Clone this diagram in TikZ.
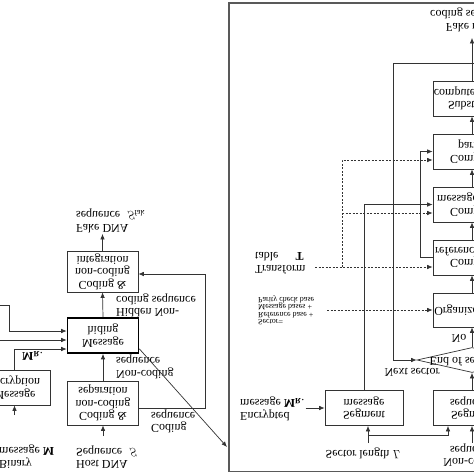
\documentclass[tikz,border=0pt]{standalone}
\usepackage{fontspec}
\setmainfont{Liberation Serif}
\usetikzlibrary{arrows.meta,shapes.geometric,calc}
\begin{document}
\begin{tikzpicture}[x=1pt,y=1pt,yscale=-1,transform shape,
  every node/.style={font=\fontsize{12}{12.5}\selectfont, inner sep=1pt},
  box/.style={draw=black!80, line width=0.7pt, align=center, inner sep=0pt, minimum width=71pt},
  rbox/.style={box, minimum width=78pt, minimum height=35pt},
  lbl/.style={align=left, anchor=west},
  ln/.style={draw=black!80, line width=0.7pt},
  arr/.style={ln, -{Latex[length=5.5pt,width=4.5pt]}},
  darr/.style={arr, dash pattern=on 2pt off 1.5pt},
  dln/.style={ln, dash pattern=on 2pt off 1.5pt},
  small/.style={font=\fontsize{8}{7.5}\selectfont}
]
\useasboundingbox (0,0) rectangle (474,474);
\clip (0,0) rectangle (474,474);

% big frame
\draw[gray!70!black, line width=1.3pt] (229,3) rectangle (495,471.5);

% ---------- left part ----------
\node[box, minimum height=41pt] (integ) at (102.5,271.5) {Coding \&\\non-coding\\integration};
\node[box, minimum height=35pt, line width=1.6pt, draw=black] (hide) at (103,335.5) {Message\\hiding};
\node[box, minimum height=44pt] (sep) at (103,403) {Coding \&\\non-coding\\separation};
\node[box, minimum height=35pt] (enc) at (14.5,387.5) {Message\\encryption};

\node[lbl] (fk) at (75,221) {Fake DNA\\sequence\hspace{7pt}$S_{\mathrm{fak}}$};
\node[lbl] (hd) at (75,457) {Host DNA\\Sequence\hspace{7pt}$S$};
\node[lbl] (bm) at (-2,456.5) {Binary\\message \textbf{M}};
\node[lbl] (mr) at (21,356) {\textbf{M}$_\mathbf{R}$.};
\node[lbl] (hn) at (115,305.5) {Hidden Non-\\coding sequence};
\node[lbl] (nc) at (115,367) {Non-coding\\sequence};
\node[lbl] (cs) at (150,421.5) {Coding\\sequence};

\coordinate (l1) at (-5,305);
\coordinate (l2) at (-5,340);
\coordinate (hda) at (103,436);
\coordinate (bma) at (14.5,415);
\coordinate (dg) at (227,447);

\draw[arr] (integ.south) -- (integ.south |- fk.north);
\draw[arr] (hide.south) -- (integ.north);
\draw[arr] (sep.south) -- (hide.north);
\draw[arr] (hda) -- (sep.north);
\draw[arr] (bma) -- (enc.north);
\draw[arr] (enc.south) |- ([yshift=13.5pt]hide.west);
\draw[arr] (l1) -- ++(14,0) |- ([yshift=-4.5pt]hide.west);
\draw[arr] (l2) -- (hide.west |- l2);
\draw[arr] ([yshift=5pt]sep.east) -- ++(66,0) |- ([yshift=2.5pt]integ.east);
\draw[arr] ([yshift=-5pt]hide.north east) -- (dg);

% ---------- right part ----------
\node[rbox] (subst) at (472,98.5) {Substitute\\computed bases};
\node[rbox] (par) at (472,151.5) {Compute\\parity};
\node[rbox] (msg) at (472,204.5) {Compute\\message bases};
\node[rbox] (ref) at (472,257.5) {Compute\\reference bases};
\node[rbox, minimum height=34pt] (org) at (472,310) {Organize sector};
\node[draw=black!80, line width=0.7pt, shape=diamond, minimum width=110pt, minimum height=25pt, inner sep=0pt,
      label={[inner sep=0pt]center:End of sequence?}] (dia) at (472,360) {};
\node[rbox] (segseq) at (472,408) {Segment\\sequence};
\node[rbox] (segmsg) at (364,408) {Segment\\message};

\node[align=center] (fko) at (470,20) {Fake non-\\coding sequence};
\node[align=center] (nci) at (472,455.5) {Non-coding\\sequence};
\node (sl) at (363,453) {Sector length $L$};
\node[lbl] (em) at (239,409) {Encrypted\\message \textbf{M}$_\mathbf{R}$.};
\node[lbl] (tt) at (254,263) {Transform\\table\hspace{17pt}\textbf{T}};
\node[lbl, small] (sc) at (257,310.5) {Sector=\\Reference base +\\Message bases +\\Parity check base};
\node (no) at (459,338) {No};
\node (ns) at (412,372) {Next sector};

\coordinate (lp) at (495,63);
\coordinate (sla) at (368,443);
\coordinate (slb) at (368,435);
\coordinate (td) at (315,267);
\coordinate (tj) at (342,267);
\coordinate (scd) at (327,310);
\coordinate (fka) at ([yshift=5pt]fko.north);

\draw[arr] (subst.south) -- (subst.south |- fka);
\draw[arr] (par.south) -- (subst.north);
\draw[arr] (msg.south) -- (par.north);
\draw[arr] (ref.south) -- (msg.north);
\draw[arr] (org.south) -- (ref.north);
\draw[arr] (dia.south) -- (org.north);
\draw[arr] (segseq.south) -- (dia.north);
\draw[arr] (nci.south) -- (segseq.north);
\draw[arr] (lp) -| ([xshift=-23pt]dia.west) -- (dia.west);
\draw[arr] (sla) -- (sla |- segmsg.north);
\draw[arr] (slb) -| ([xshift=-24pt]segseq.north);
\draw[arr] (segmsg.west -| em.east) -- (segmsg.west);
\draw[arr] (segmsg.south) |- (msg.west);
\draw[arr] (ref.west) -- ++(-12,0) |- (par.west);

\coordinate (pd) at ([yshift=8.5pt]par.west);
\coordinate (md) at ([yshift=8.5pt]msg.west);
\draw[darr] (td) -- (ref.west |- td);
\draw[darr] (tj) |- (pd);
\draw[darr] (tj |- md) -- (md);
\draw[darr] (scd) -- (org.west);
\end{tikzpicture}
\end{document}
